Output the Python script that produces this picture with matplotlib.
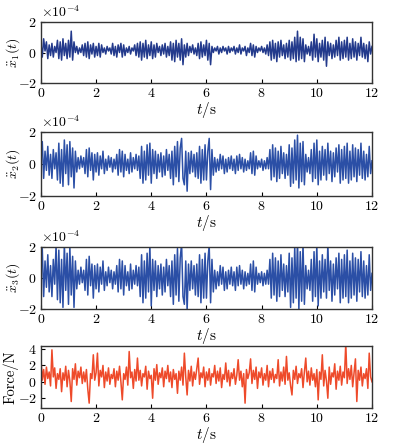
import numpy as np
import matplotlib
matplotlib.use("Agg")
import matplotlib.pyplot as plt

plt.rcParams['font.family'] = 'serif'
plt.rcParams['font.serif'] = ['cmr10']
plt.rcParams['mathtext.fontset'] = 'cm'
plt.rcParams['axes.formatter.use_mathtext'] = True

dt = 0.05

# acceleration responses, in units of 1e-4 (one row per second)
x1_e4 = [
    0.6, -0.3, 0.9, 0.1, 0.7, -0.4, 0.5, -0.2, 0.6, -0.3, 0.4, 0.0, 0.8, -0.4, 0.7, -0.5, 0.9, -0.2, 0.6, -0.4,
    0.8, -0.3, 1.4, -0.5, 0.7, 0.0, 0.4, -0.1, 0.3, 0.0, 0.5, -0.2, 0.6, -0.3, 0.7, -0.4, 0.5, -0.1, 0.6, -0.3,
    0.4, -0.2, 0.6, -0.3, 0.5, 0.0, 0.3, -0.1, 0.4, 0.1, 0.3, -0.1, 0.6, -0.2, 0.4, -0.3, 0.5, 0.0, 0.6, -0.3,
    0.5, -0.2, 0.3, 0.0, 0.4, -0.1, 0.3, 0.1, 0.5, -0.2, 0.6, -0.3, 0.7, -0.5, 0.6, -0.3, 0.8, -0.4, 0.5, -0.2,
    0.7, -0.4, 0.5, -0.3, 0.6, 0.0, 0.4, -0.2, 0.5, -0.1, 0.6, -0.3, 0.4, -0.2, 0.7, -0.5, 0.6, -0.6, 0.8, -0.3,
    0.6, -0.5, 0.9, -0.8, 0.5, -0.3, 0.6, -0.2, 0.4, 0.0, 0.5, -0.1, 0.3, -0.2, 0.6, -0.4, 0.7, -0.3, 0.5, -0.2,
    0.8, -0.5, 0.6, -0.8, 0.4, 0.0, 0.3, 0.1, 0.4, -0.1, 0.3, 0.0, 0.4, 0.1, 0.3, -0.1, 0.4, 0.0, 0.3, 0.1,
    0.4, -0.1, 0.3, 0.0, 0.5, -0.1, 0.3, 0.1, 0.4, -0.2, 0.3, 0.0, 0.6, -0.2, 0.5, -0.3, 0.4, 0.0, 0.3, 0.1,
    0.4, 0.0, 0.3, -0.1, 0.5, -0.2, 0.7, -0.5, 0.8, -0.4, 0.6, -0.6, 0.7, -0.3, 0.8, -0.2, 0.5, -0.4, 0.6, -0.3,
    0.8, -0.5, 0.7, -0.4, 1.0, -0.6, 1.4, -0.5, 1.0, -0.4, 0.9, -0.6, 0.5, -0.1, 0.4, -0.2, 0.7, -0.5, 1.2, -0.3,
    0.9, -0.6, 0.6, -0.3, 0.8, -0.5, 1.0, -0.9, 0.7, -0.2, 0.6, -0.4, 0.5, -0.3, 0.8, -0.2, 1.0, -0.5, 0.7, -0.4,
    0.8, -0.3, 1.0, -0.5, 0.6, -0.4, 0.9, -0.3, 0.7, -0.5, 0.6, -0.2, 1.0, -0.3, 0.6, -0.4, 0.5, -0.6, 0.7, -0.1,
    0.4,
]

x2_e4 = [
    0.3, 1.4, -0.9, 0.8, -0.4, 1.1, -0.7, 0.6, -0.9, 0.9, -0.3, 0.7, -1.0, 1.3, -1.2, 0.9, -1.4, 1.5, -0.6, 1.2,
    -1.3, 1.4, -0.8, 1.0, -1.5, 0.8, -0.5, 0.4, -0.3, 0.5, -0.2, 0.4, -0.6, 0.9, -0.8, 1.0, -0.4, 0.7, -1.0, 0.6,
    -0.5, 0.7, -0.7, 0.5, -0.3, 0.8, -0.6, 0.3, -0.4, 0.5, -0.2, 0.4, -0.5, 0.3, -0.3, 0.6, -0.7, 0.9, -0.5, 0.8,
    -0.8, 0.6, -0.4, 0.3, -0.6, 0.7, -0.5, 0.4, -0.3, 0.6, -0.4, 0.5, -0.9, 1.1, -1.2, 0.8, -1.0, 1.2, -0.7, 1.3,
    -1.2, 0.9, -0.6, 0.8, -0.9, 0.6, -0.5, 0.7, -0.8, 0.5, -0.7, 0.9, -0.4, 0.6, -0.9, 0.8, -1.3, 1.1, -0.8, 1.4,
    -1.1, 1.0, 1.6, -0.9, -1.3, 0.8, -1.7, 0.7, -0.6, 0.8, -0.5, 0.6, -0.8, 0.7, -0.9, 1.1, -1.2, 0.9, -1.0, 1.2,
    -1.0, 0.8, 1.6, -1.6, 0.9, -0.7, 0.4, -0.5, 0.3, -0.4, 0.6, -0.3, 0.5, -0.6, 0.3, -0.5, 0.4, -0.3, 0.5, -0.4,
    0.3, -0.6, 0.5, -0.4, 0.6, -0.3, 0.4, -0.5, 0.3, -0.4, 0.2, -0.3, 0.7, -0.6, 0.8, -0.7, 0.5, -0.3, 0.2, -0.2,
    0.3, -0.4, 0.2, -0.3, 0.4, -0.3, 0.9, -1.0, 1.2, -0.8, 1.0, -1.1, 0.8, -0.9, 1.1, -0.6, 0.7, -0.9, 0.6, -0.7,
    1.2, -1.4, 1.0, -1.2, 1.5, -1.0, 1.8, -1.5, 1.3, -1.1, 1.4, -1.3, 0.6, -0.5, 0.4, -0.6, 0.9, -1.1, 1.3, -0.9,
    1.5, -1.3, 0.8, -1.0, 1.1, -0.7, 0.9, -1.0, 1.3, -0.6, 0.8, -1.1, 0.7, -0.8, 1.0, -0.5, 1.2, -1.2, 0.9, -1.0,
    1.1, -0.9, 1.3, -1.2, 0.8, -1.0, 1.2, -0.8, 1.0, -1.1, 0.9, -0.7, 1.3, -0.9, 0.8, -1.0, 0.6, -0.8, 1.1, -0.6,
    0.2,
]

x3_e4 = [
    0.4, 1.9, -1.2, 1.1, -0.6, 1.5, -0.9, 0.8, -1.2, 1.2, -0.4, 2.1, -1.4, 1.8, -1.6, 1.2, -1.9, 2.2, -0.8, 1.6,
    -1.7, 2.0, -1.1, 1.4, -1.9, 1.1, -0.7, 0.5, -0.4, 0.7, -0.3, 0.5, -0.8, 1.2, -1.1, 1.4, -0.5, 0.9, -1.3, 0.8,
    -0.7, 0.9, -0.9, 0.7, -0.4, 1.1, -0.8, 0.4, -0.5, 0.7, -0.3, 0.5, -0.7, 0.4, -0.4, 0.8, -0.9, 1.2, -0.7, 1.1,
    -1.1, 0.8, -0.5, 0.4, -0.8, 0.9, -0.7, 0.5, -0.4, 0.8, -0.5, 0.7, -1.2, 1.5, -1.6, 1.1, -1.3, 1.6, -0.9, 2.1,
    -1.8, 1.2, -0.8, 1.1, -1.2, 0.8, -0.7, 0.9, -1.1, 0.7, -0.9, 1.2, -0.5, 0.8, -1.2, 1.1, -1.7, 1.5, -1.1, 1.9,
    -1.5, 1.3, 2.2, -1.2, -1.7, 1.1, -2.1, 0.9, -0.8, 1.1, -0.7, 0.8, -1.1, 0.9, -1.2, 1.5, -1.6, 1.2, -1.3, 1.6,
    -1.3, 1.1, 2.1, -1.6, 1.2, -0.9, 0.5, -0.7, 0.4, -0.5, 0.8, -0.4, 0.7, -0.8, 0.4, -0.7, 0.5, -0.4, 0.7, -0.5,
    0.4, -0.8, 0.7, -0.5, 0.8, -0.4, 0.5, -0.7, 0.4, -0.5, 0.3, -0.4, 0.9, -0.8, 1.1, -0.9, 0.7, -0.4, 0.3, -0.3,
    0.4, -0.5, 0.3, -0.4, 0.5, -0.4, 1.2, -1.3, 1.6, -1.1, 1.3, -1.5, 1.1, -1.2, 1.5, -0.8, 0.9, -1.2, 0.8, -0.9,
    1.6, -1.9, 1.3, -1.6, 2.0, -1.3, 2.4, -2.0, 1.7, -1.5, 2.2, -1.7, 0.8, -0.7, 0.5, -0.8, 1.2, -1.5, 1.7, -1.2,
    2.1, -1.8, 1.1, -1.3, 1.5, -0.9, 1.2, -1.3, 2.2, -0.8, 1.1, -1.5, 0.9, -1.1, 1.3, -0.7, 1.6, -1.6, 1.2, -1.3,
    1.5, -1.2, 1.8, -1.6, 1.1, -1.3, 1.6, -1.1, 1.3, -1.5, 1.2, -0.9, 1.7, -1.2, 1.1, -1.3, 0.8, -1.1, 1.5, -0.8,
    0.3,
]

# excitation force in N
force = [
    3.0, 0.2, 1.5, -0.3, 1.8, 0.4, 1.2, -0.5, 3.9, 0.6, 1.7, -0.8, 1.0, 0.3, 1.6, -1.2, 1.1, 0.2, 1.9, -0.6,
    1.4, 0.1, -2.4, 1.6, 0.3, 2.2, -0.4, 1.3, 0.5, 1.8, -0.2, 1.2, 0.0, 1.5, -0.9, -2.6, 1.0, 0.4, 3.3, 0.2,
    1.1, 3.5, -0.5, 1.4, 0.6, 2.0, -0.7, 1.2, 0.1, 1.7, -0.3, 0.9, 0.4, 1.6, -0.6, 1.3, 0.2, 1.9, 0.0, -2.2,
    1.0, 0.3, 1.8, -0.4, 3.7, 0.5, 1.2, -0.8, 1.5, 0.1, 2.9, 0.2, 1.4, -0.5, 1.0, 0.6, 1.9, -0.9, 1.3, 0.4,
    0.8, -2.0, 1.6, 0.2, 2.1, -0.3, 1.1, 0.5, 1.7, -0.6, 1.3, 0.4, 2.0, 0.0, 1.2, -0.7, 1.5, 0.3, 1.0, -1.4,
    1.3, 0.2, 1.8, -0.4, 3.5, 0.6, -1.6, 1.4, 0.1, 1.9, -0.5, 1.2, 0.3, 1.6, 2.9, -0.3, 1.1, 0.5, 1.8, -0.6,
    1.2, 0.2, 1.6, -0.4, 1.0, 0.6, 2.0, -0.2, 1.3, 0.1, 1.7, -0.7, 0.9, 0.3, 2.3, 0.0, 1.4, -0.5, 1.1, 0.4,
    1.6, -0.3, 0.8, 2.7, 0.2, 1.3, -0.6, 1.0, -2.6, 1.5, 0.4, 1.1, 2.8, -0.2, 1.4, 0.3, 1.8, -0.8, 1.2, 0.5,
    1.7, -0.4, 1.0, 0.2, 2.0, -0.6, 1.3, 0.3, 1.6, -0.1, 0.9, 0.4, 2.7, -0.5, 1.2, 0.1, 1.8, -0.3, 3.1, 0.2,
    1.1, -0.5, -1.6, 1.4, 0.3, 1.9, -0.2, 1.0, 0.5, 1.6, -0.7, 1.2, 2.9, 0.0, 1.3, -0.4, 1.7, 0.2, 1.0, -0.6,
    1.5, -2.2, 1.2, 0.3, 3.3, -0.5, 1.4, 0.1, -2.0, 1.8, -0.3, 1.1, 0.6, 2.2, -0.9, 1.3, 0.2, 1.9, -0.4, 1.2,
    0.5, 4.7, -0.2, 1.6, 0.3, 2.0, -0.6, 1.1, 2.8, -2.4, 1.4, 0.2, 1.8, -0.5, 1.0, 0.4, 1.6, -0.8, 3.5, 0.6,
    0.0,
]

t = np.arange(len(force)) * dt

fig = plt.figure(figsize=(3.97, 4.45), dpi=100)
left, width = 0.103, 0.834
boxes = [(0.8135, 0.137), (0.5596, 0.1438), (0.3057, 0.1392), (0.0830, 0.1400)]
series = [x1_e4, x2_e4, x3_e4, force]
colors = ['#233a8c', '#2b4fa6', '#2b4fa6', '#ee4a2a']
ylabels = [r'$\ddot{x}_1(t)$', r'$\ddot{x}_2(t)$', r'$\ddot{x}_3(t)$', 'Force/N']

for i in range(4):
    ax = fig.add_axes([left, boxes[i][0], width, boxes[i][1]])
    ax.plot(t, series[i], color=colors[i], lw=1.1)
    ax.set_xlim(0, 12)
    ax.set_xticks([0, 2, 4, 6, 8, 10, 12])
    if i < 3:
        ax.set_ylim(-2, 2)
        ax.set_yticks([-2, 0, 2])
        ax.text(0.0, 1.03, r'$\times10^{-4}$', transform=ax.transAxes, fontsize=10, va='bottom')
        ax.set_ylabel(ylabels[i], fontsize=10)
        ax.yaxis.set_label_coords(-0.058, 0.5)
    else:
        ax.set_ylim(-3.2, 4.4)
        ax.set_yticks([-2, 0, 2, 4])
        ax.set_ylabel(ylabels[i], fontsize=10.5)
        ax.yaxis.set_label_coords(-0.068, 0.5)
    ax.tick_params(direction='in', labelsize=10, length=3, pad=3)
    ax.set_xlabel(r'$t/\mathrm{s}$', fontsize=11, labelpad=0)
    for s in ax.spines.values():
        s.set_linewidth(1.0)
        s.set_color('#333333')

fig.savefig('out.png', dpi=100)
